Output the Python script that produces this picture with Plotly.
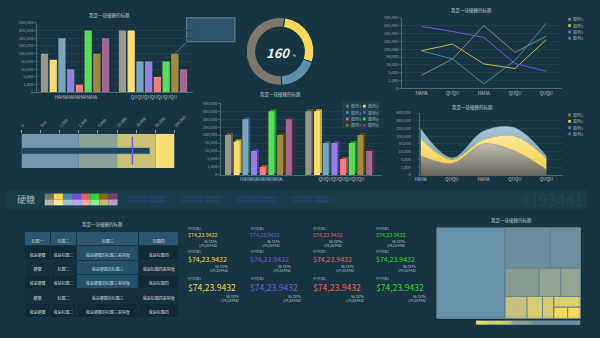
import numpy as np
import plotly.graph_objects as go

W, H = 600, 338
BG = '#193441'
FONT = 'Noto Sans CJK SC, Noto Sans, sans-serif'
LABEL = '#8fa1a8'
AXIS = '#4a6874'
GRID = '#22404c'
TITLE_C = '#b8c4c8'
TITLE = '我是一块硬糖的标题'

# ---------------- data ----------------
Y_TICKS = [0, 1000, 5000, 10000, 50000, 100000, 200000, 300000, 400000, 500000]
Y_LABELS = ['0', '1,000', '5,000', '10,000', '50,000', '100,000', '200,000', '300,000', '400,000', '500,000']

PALETTE = ['#7b7566', '#f4d54b', '#4a86a8', '#6e50d0', '#e8605a', '#2fd42f', '#8a6a10', '#803c6e']
PALETTE_LIGHT = ['#b9b4a8', '#fbe9a0', '#a0c0d0', '#b4a8e8', '#f4a8a8', '#98e898', '#c8b878', '#c0a0b8']
BAR_COLORS = ['#9a968a', '#f8de78', '#7aa4bc', '#9680e0', '#f08080', '#5cdc5c', '#a08a44', '#a06a94']
BAR_SIDE = ['#5e5a4e', '#c8aa30', '#2e6080', '#5038a8', '#b84444', '#1a9a1a', '#5a4408', '#5a2850']

BAR_GROUPS = ['HAHAHAHAHAHAHA', 'QUQUQUQUQUQUQU']
BAR_NAMES = ['图例1', '图例2', '图例3', '图例4', '图例5', '图例6', '图例7', '图例8']
BAR_S1 = [100000, 400000]
BAR_S2 = [60000, 400000]
BAR_S3 = [300000, 50000]
BAR_S4 = [10000, 50000]
BAR_S5 = [1000, 5000]
BAR_S6 = [400000, 50000]
BAR_S7 = [100000, 100000]
BAR_S8 = [300000, 10000]

LINE_X = ['HAHA', 'QUQU', 'HAHA', 'QUQU', 'QUQU']
LINE_NAMES = ['图例1', '图例2', '图例3', '图例4']
LINE_COLORS = ['#8a857a', '#c9b84e', '#4a86a8', '#7458dc']
LINE_S1 = [3700, 40000, 400000, 80000, 265000]
LINE_S2 = [90000, 165000, 15000, 7700, 220000]
LINE_S3 = [90000, 40000, 600, 32000, 430000]
LINE_S4 = [390000, 325000, 250000, 17000, 6000]

AREA_X = ['HAHA', 'QUQU', 'HAHA', 'QUQU', 'QUQU']
AREA_NAMES = ['图例1', '图例2', '图例3', '图例4']
AREA_TOP1 = [7500, 3000, 50000, 13000, 700]
AREA_TOP2 = [86000, 5000, 76000, 100000, 5500]
AREA_TOP3 = [200000, 6000, 165000, 207000, 7000]

BULLET_TICKS = [0, 500, 1000, 2000, 5000, 10000, 20000, 50000, 100000]
BULLET_LABELS = ['0', '500', '1,000', '2,000', '5,000', '10,000', '20,000', '50,000', '100,000']
BULLET_BANDS = [2000, 10000, 50000, 100000]
BULLET_BAND_COLORS = ['#7299b0', '#8da296', '#cac377', '#f7df75']
BULLET_MEASURE = 41000
BULLET_TARGET = 18000

PIE_LABELS = ['图例2', '图例3', '图例1']
PIE_VALUES = [28, 19, 53]
PIE_COLORS = ['#f5d95c', '#5d90ad', '#7d786c']
PIE_CENTER = '160'

TABLE_HEADER = ['标题一', '标题二', '标题三', '标题四']
TABLE_C1 = ['我是硬糖', '硬糖', '我是硬糖', '硬糖', '我是硬糖']
TABLE_C2 = ['我是标题二', '标题二', '我是标题二', '标题二', '我是标题二']
TABLE_C3 = ['我是硬糖的标题三来得慢', '我是硬糖的标题三', '我是硬糖的标题三来得慢', '我是硬糖的标题三', '我是硬糖的标题三来得慢']
TABLE_C4 = ['我是标题四', '我是标题四来得慢', '我是标题四', '我是标题四来得慢', '我是标题四']

KPI_LABEL = 'KPI的图1'
KPI_VALUE = '$74,23.9432'
KPI_PCT = '56.737%'
KPI_SUB = '$74,23.9432'
KPI_COLORS = ['#f2d54b', '#7458dc', '#e8605a', '#2fd42f']

# treemap: hierarchy (groups) + leaf values
TREE_IDS = ['root', 'A', 'R', 'R1', 'B', 'C', 'R2', 'D', 'E', 'F', 'R3', 'G', 'H', 'J', 'Q', 'I', 'P', 'K', 'L']
TREE_PARENTS = ['', 'root', 'root', 'R', 'R1', 'R1', 'R', 'R2', 'R2', 'R2', 'R', 'R3', 'R3', 'R3', 'R3', 'Q', 'Q', 'P', 'P']
TREE_VALUES = [0, 6551, 0, 0, 1929, 1280, 0, 1015, 658, 580, 0, 506, 357, 261, 0, 300, 0, 162, 147]

ITEM_TEXT_TOP = ['<ITEM COLOR="#7B7566" />', '<ITEM COLOR="#F4D54B" />', '<ITEM COLOR="#4A86A8" />', '<ITEM COLOR="#6E50D0" />']
ITEM_TEXT_BOT = ['<ITEM COLOR="#B9B4A8" />', '<ITEM COLOR="#FBE9A0" />', '<ITEM COLOR="#A0C0D0" />', '<ITEM COLOR="#B4A8E8" />']


# ---------------- helpers ----------------
def X(p):
    return p / W


def Y(p):
    return 1 - p / H


def yidx(v):
    return np.interp(v, Y_TICKS, np.arange(len(Y_TICKS)))


def bidx(v):
    return float(np.interp(v, BULLET_TICKS, np.arange(len(BULLET_TICKS))))


fig = go.Figure()


def text(x, y, s, size=4, color=LABEL, anchor='center', **kw):
    fig.add_annotation(x=X(x), y=Y(y), xref='paper', yref='paper', text=s, showarrow=False,
                       xanchor=anchor, yanchor='middle', font=dict(size=size, color=color, family=FONT),
                       borderpad=0, **kw)


def rect(x0, y0, x1, y1, fill, line=None, lw=0):
    fig.add_shape(type='rect', xref='paper', yref='paper', x0=X(x0), x1=X(x1), y0=Y(y1), y1=Y(y0),
                  fillcolor=fill, line=dict(color=line or fill, width=lw), layer='below')


def legend_item(x, y, color, s):
    fig.add_shape(type='rect', xref='paper', yref='paper', x0=X(x - 1.4), x1=X(x + 1.4),
                  y0=Y(y + 1.4), y1=Y(y - 1.4), fillcolor=color, line=dict(width=0))
    text(x + 3, y, s, size=4, color=LABEL, anchor='left')


# strip band (behind)
rect(0, 189, 600, 209, '#173e48')

# ---------------- panel 1: bars ----------------
bar_series = [BAR_S1, BAR_S2, BAR_S3, BAR_S4, BAR_S5, BAR_S6, BAR_S7, BAR_S8]
for i, (name, vals) in enumerate(zip(BAR_NAMES, bar_series)):
    fig.add_trace(go.Bar(x=BAR_GROUPS, y=yidx(vals), customdata=vals, name=name,
                         offset=-0.45 + i * 0.112, width=0.093,
                         marker=dict(color=BAR_COLORS[i], line=dict(width=0)),
                         xaxis='x', yaxis='y'))

# callout box + pointer line to the QUQU group's 图例7 bar
rect(186.5, 14, 236.5, 38.5, '#2a5468', '#6f93a5', 0.8)
fig.add_annotation(x=1 + (-0.45 + 6 * 0.112) + 0.093 / 2, y=float(yidx(BAR_S7[1])), xref='x', yref='y',
                   ax=12.3, ay=-12.2, text='', showarrow=True, arrowhead=0, arrowwidth=0.8,
                   arrowcolor='#6f93a5', standoff=0, startstandoff=0)
text(107, 12, TITLE, size=4.5, color=TITLE_C)

# ---------------- panel 2: donut ----------------
fig.add_trace(go.Pie(labels=PIE_LABELS, values=PIE_VALUES, hole=0.72, sort=False, direction='clockwise',
                     rotation=8, marker=dict(colors=PIE_COLORS, line=dict(color=BG, width=1)),
                     textinfo='none', hoverinfo='skip',
                     domain=dict(x=[X(248), X(318)], y=[Y(84.5), Y(12)])))
text(281, 49, '<b><i>' + PIE_CENTER + '</i></b>', size=13, color='#eef1f2')
text(297.5, 53, '%', size=3, color='#eef1f2')
text(283, 92, TITLE, size=4.5, color=TITLE_C)

# ---------------- panel 3: lines ----------------
line_series = [LINE_S1, LINE_S2, LINE_S3, LINE_S4]
for i, (name, vals) in enumerate(zip(LINE_NAMES, line_series)):
    fig.add_trace(go.Scatter(x=list(range(len(LINE_X))), y=yidx(vals), customdata=vals, name=name,
                             mode='lines', line=dict(color=LINE_COLORS[i], width=1),
                             xaxis='x2', yaxis='y2'))
for i, name in enumerate(LINE_NAMES):
    legend_item(582, 15.5 + i * 6.45, LINE_COLORS[i], name)
text(481, 7, TITLE, size=4.5, color=TITLE_C)

# ---------------- panel 4: bullet ----------------
starts = [0] + BULLET_BANDS[:-1]
for s, e, col in zip(starts, BULLET_BANDS, BULLET_BAND_COLORS):
    fig.add_trace(go.Bar(y=[0], x=[bidx(e) - bidx(s)], base=[bidx(s)], orientation='h', width=1,
                         marker=dict(color=col, line=dict(width=0)), xaxis='x3', yaxis='y3'))
fig.add_trace(go.Bar(y=[0], x=[bidx(BULLET_MEASURE)], base=[0], orientation='h', width=0.17,
                     marker=dict(color='#1d4660', line=dict(color='#35627a', width=0.5)),
                     xaxis='x3', yaxis='y3'))
fig.add_trace(go.Scatter(x=[bidx(BULLET_TARGET)], y=[0], mode='markers',
                         marker=dict(symbol='line-ns', size=20, line=dict(color='#7458dc', width=1.5)),
                         xaxis='x3', yaxis='y3'))

# ---------------- panel 5: 3D-ish bars ----------------
for i, (name, vals) in enumerate(zip(BAR_NAMES, bar_series)):
    o = -0.45 + i * 0.108
    fig.add_trace(go.Bar(x=BAR_GROUPS, y=yidx(vals), base=0.25, offset=o + 0.024, width=0.075,
                         marker=dict(color=BAR_SIDE[i], line=dict(width=0)), showlegend=False,
                         xaxis='x4', yaxis='y4'))
    fig.add_trace(go.Bar(x=BAR_GROUPS, y=yidx(vals), customdata=vals, name=name, offset=o, width=0.075,
                         marker=dict(color=BAR_COLORS[i], line=dict(width=0)),
                         xaxis='x4', yaxis='y4'))
rect(348, 100, 385, 126, '#1c3d4a', '#33525d', 0.5)
for i, name in enumerate(BAR_NAMES):
    legend_item(352.5 + (i % 2) * 17.5, 104 + (i // 2) * 6.5, PALETTE[i], name)

# ---------------- panel 6: stacked smooth area ----------------
ax_idx = list(range(len(AREA_X)))
area_tops = [AREA_TOP1, AREA_TOP2, AREA_TOP3]
area_grad = [[[0, '#6b675b'], [1, '#c2bdb0']],
             [[0, '#f1cf46'], [1, '#fbeaa2']],
             [[0, '#7aa2b8'], [1, '#a9c5d2']]]
area_line = ['#aaa69a', '#f4d54b', '#8ab2c6']
for i, tops in enumerate(area_tops):
    fig.add_trace(go.Scatter(x=ax_idx, y=yidx(tops), customdata=tops, name=AREA_NAMES[i],
                             mode='lines', line=dict(color=area_line[i], width=0.6, shape='spline', smoothing=1),
                             fill='tozeroy' if i == 0 else 'tonexty',
                             fillgradient=dict(type='vertical', colorscale=area_grad[i]),
                             xaxis='x5', yaxis='y5'))
for i, name in enumerate(AREA_NAMES):
    legend_item(582, 113 + i * 6.4, PALETTE[i], name)
text(482, 105, TITLE, size=4.5, color=TITLE_C)

# ---------------- strip ----------------
text(21, 199, '硬糖', size=9, color='#a9b5b9')
sw = 9.4
for j in range(8):
    rect(40 + j * sw, 193, 40 + (j + 1) * sw, 199, PALETTE[j])
    rect(40 + j * sw, 199, 40 + (j + 1) * sw, 205, PALETTE_LIGHT[j])
for j, (a, b) in enumerate(zip(ITEM_TEXT_TOP, ITEM_TEXT_BOT)):
    cx = 146 + j * 57
    text(cx, 196.5, a.replace('<', '&lt;').replace('>', '&gt;'), size=3.3, color='#3550a0')
    text(cx, 201.5, b.replace('<', '&lt;').replace('>', '&gt;'), size=3.3, color='#3550a0')
text(597, 199, '#193441', size=16, color='#224553', anchor='right')

# ---------------- table ----------------
dark, light, hi = '#112a35', '#15303c', '#22506a'
row_fill = [dark, light, dark, light, dark]
col3_fill = [hi, hi, hi, light, dark]
fig.add_trace(go.Table(
    domain=dict(x=[X(19), X(179)], y=[Y(321), Y(232)]),
    columnwidth=[27, 27, 65, 41],
    header=dict(values=TABLE_HEADER, fill_color='#2b5870', line=dict(color=BG, width=1),
                font=dict(size=4, color='#c8d2d6', family=FONT), height=14, align='center'),
    cells=dict(values=[TABLE_C1, TABLE_C2, TABLE_C3, TABLE_C4],
               fill_color=[row_fill, row_fill, col3_fill, row_fill], line=dict(color=BG, width=1),
               font=dict(size=4, color='#c8d2d6', family=FONT), height=14.3, align='center')))
text(100, 224, TITLE, size=4.5, color=TITLE_C)

# ---------------- KPI ----------------
kpi_rows = [  # label y, value y, value size, pct y, sub y, right edge offset
    (228.8, 235.3, 5.3, 241.3, 245.5, 32),
    (252.3, 260, 7, 267.5, 271.8, 43.5),
    (279.2, 288.6, 8.6, 297.5, 302, 54),
]
for c, col in enumerate(KPI_COLORS):
    x0 = 187.3 + c * 64.6
    for ly, vy, vs, py_, sy, rr in kpi_rows:
        text(x0, ly, KPI_LABEL, size=3.2, color='#8fa1a8', anchor='left')
        text(x0 - 0.5, vy, KPI_VALUE, size=vs, color=col, anchor='left')
        text(x0 + rr, py_, KPI_PCT, size=3.2, color='#b8c4c8', anchor='right')
        text(x0 + rr, sy, KPI_SUB, size=3.2, color='#b8c4c8', anchor='right')

# ---------------- treemap ----------------
leaf_vals = np.array([v for v in TREE_VALUES if v > 0], dtype=float)
lv_all = np.log(leaf_vals)
tree_col = [float(np.log(v)) if v > 0 else float(lv_all.mean()) for v in TREE_VALUES]
tree_scale = [[0, '#f6da58'], [0.06, '#f3d964'], [0.14, '#d2c97a'], [0.2, '#e0d26c'],
              [0.33, '#c5bf80'], [0.36, '#96a392'], [0.52, '#899c92'], [0.56, '#6d8e9c'],
              [0.7, '#6b8d9c'], [1, '#6792ab']]
fig.add_trace(go.Treemap(
    ids=TREE_IDS, labels=TREE_IDS, parents=TREE_PARENTS,
    values=TREE_VALUES, branchvalues='remainder', sort=False,
    marker=dict(colors=tree_col, colorscale=tree_scale,
                cmin=float(lv_all.min()), cmax=float(lv_all.max()),
                line=dict(color='#5f7f89', width=0.8), pad=dict(t=0, l=0, r=0, b=0),
                showscale=True,
                colorbar=dict(orientation='h', x=X(539.5), xanchor='center', y=Y(325), yanchor='middle',
                              len=107 / W, lenmode='fraction', thickness=4, showticklabels=False, ticks='',
                              outlinecolor='#6a8a94', outlinewidth=0.5, xpad=0, ypad=0)),
    tiling=dict(packing='slice-dice', pad=0),
    pathbar=dict(visible=False), textinfo='none', hoverinfo='skip', root=dict(color=BG),
    domain=dict(x=[X(445), X(593)], y=[Y(320), Y(228)])))
text(522, 220, TITLE, size=4.5, color=TITLE_C)


# ---------------- layout ----------------
def yax(dom, n, anchor, **kw):
    d = dict(domain=dom, range=[0, n], tickvals=list(range(n + 1)), ticktext=Y_LABELS[:n + 1],
             showgrid=True, gridcolor=GRID, gridwidth=0.5, zeroline=False, showline=True,
             linecolor=AXIS, linewidth=0.8, ticks='outside', ticklen=2, tickcolor=AXIS,
             tickfont=dict(size=4, color=LABEL, family=FONT), anchor=anchor, fixedrange=True)
    d.update(kw)
    return d


def xax(dom, rng, anchor, **kw):
    d = dict(domain=dom, range=rng, showgrid=False, zeroline=False, showline=True, linecolor=AXIS,
             linewidth=0.8, ticks='', tickfont=dict(size=4.5, color='#c0cacd', family=FONT),
             anchor=anchor, fixedrange=True)
    d.update(kw)
    return d


fig.update_layout(
    width=W, height=H, autosize=False, margin=dict(l=0, r=0, t=0, b=0),
    paper_bgcolor=BG, plot_bgcolor='rgba(0,0,0,0)', showlegend=False, barmode='overlay',
    font=dict(family=FONT, color=LABEL),
    xaxis=xax([X(32), X(193)], [-0.5, 1.5], 'y', type='category'),
    yaxis=yax([Y(90), Y(19)], 9, 'x'),
    xaxis2=xax([X(409), X(574)], [-0.62, 4.5], 'y2', tickvals=list(range(5)), ticktext=LINE_X),
    yaxis2=yax([Y(86), Y(14)], 9, 'x2'),
    xaxis3=dict(domain=[X(16), X(174)], range=[0, 8], side='top', anchor='y3', tickvals=list(range(9)),
                ticktext=BULLET_LABELS, tickangle=-45, ticks='outside', ticklen=3, tickcolor='#8fa1a8',
                showline=False, showgrid=False, zeroline=False,
                tickfont=dict(size=4, color='#a8b6bb', family=FONT), fixedrange=True),
    yaxis3=dict(domain=[Y(167), Y(132)], range=[-0.5, 0.5], visible=False, anchor='x3', fixedrange=True),
    xaxis4=xax([X(222), X(388)], [-0.5, 1.5], 'y4', type='category'),
    yaxis4=yax([Y(174), Y(101)], 9, 'x4'),
    xaxis5=xax([X(428), X(575)], [0, 4.52], 'y5', tickvals=list(range(5)), ticktext=AREA_X),
    yaxis5=yax([Y(174), Y(111)], 8, 'x5', ticklabelstandoff=6),
)

fig.write_html('out.html')
